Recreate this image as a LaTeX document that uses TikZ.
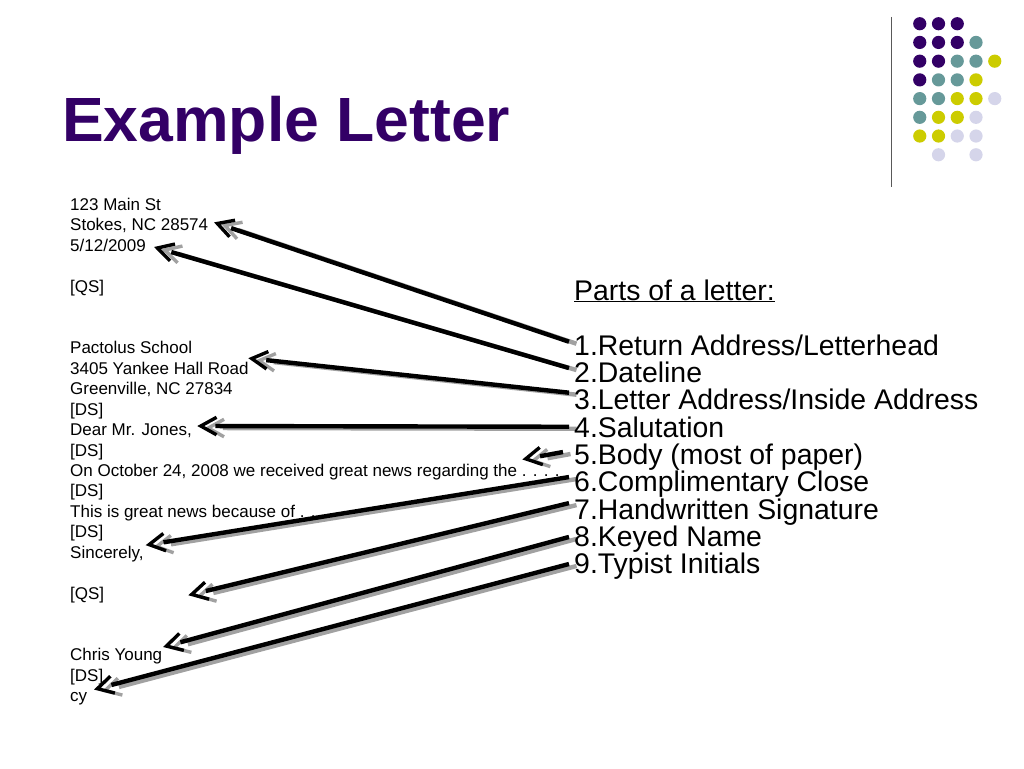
\documentclass[tikz,border=0pt]{standalone}
\usepackage{fontspec}
\setmainfont{Liberation Sans}
\usetikzlibrary{calc,backgrounds}
\definecolor{deeppurple}{HTML}{330066}
\definecolor{dotteal}{HTML}{669999}
\definecolor{dotyellow}{HTML}{CCCC00}
\definecolor{dotlilac}{HTML}{D5D5EA}
\tikzset{
    title/.style={
                anchor=base west,
                inner sep=0pt,
                text=deeppurple,
                font=\fontsize{62.5}{70}\selectfont\bfseries
            },
    letter/.style={
                anchor=north west,
                inner sep=0pt,
                align=left,
                font=\fontsize{17}{20.46}\selectfont
            },
    part/.style={
                anchor=base west,
                inner sep=0pt,
                font=\fontsize{28.4}{32}\selectfont
            },
    pointer/.style={line width=4.4pt,black},
    pointer head/.style={line width=3.4pt,black},
    pointer shadow/.style={line width=4.4pt,black!37},
    pointer shadow head/.style={line width=3.4pt,black!37},
}
% one arrow: open chevron at the tip, shaft stopping just behind it
\newcommand{\letterpointer}[3]{
  \draw[#1] (#2) -- ($(#3)!17pt!(#2)$);
  \coordinate (apex) at ($(#3)!2.5pt!(#2)$);
  \draw[#1 head] ($(apex)!18pt!29:(#2)$) -- (apex) -- ($(apex)!18pt!-29:(#2)$);
}
\begin{document}
\begin{tikzpicture}[x=1pt,y=-1pt]
  \useasboundingbox (0,0) rectangle (1024,768);
  % Title
  \node[title] (heading) at (62,141) {Example Letter};
  % Corner ornament
  \coordinate (ruletop) at (891.5,17);
  \coordinate (rulebottom) at (891.5,187);
  \draw[line width=1.3pt,black!65] (ruletop) -- (rulebottom);
  \foreach \c/\r in {1/1,2/1,3/1,1/2,2/2,3/2,1/3,2/3,1/4}
    \fill[deeppurple] (901+18.75*\c,5+18.72*\r) circle (6.6);
  \foreach \c/\r in {4/2,3/3,4/3,2/4,3/4,1/5,2/5,1/6}
    \fill[dotteal] (901+18.75*\c,5+18.72*\r) circle (6.6);
  \foreach \c/\r in {5/3,4/4,3/5,4/5,2/6,3/6,1/7,2/7}
    \fill[dotyellow] (901+18.75*\c,5+18.72*\r) circle (6.6);
  \foreach \c/\r in {5/5,4/6,3/7,4/7,2/8,4/8}
    \fill[dotlilac] (901+18.75*\c,5+18.72*\r) circle (6.6);
  % Parts list
  \node[part] (partshead) at (574,300) {\underline{Parts of a letter:}};
  \foreach \n/\label in {1/Return Address\slash Letterhead,2/Dateline,3/Letter Address\slash Inside Address,4/Salutation,5/Body (most of paper),6/Complimentary Close,7/Handwritten Signature,8/Keyed Name,9/Typist Initials}
    \node[part] (item\n) at (574,355+27.35*\n-27.35) {\n.\label};
  % Arrow ends
  \foreach \n/\dx/\dy/\tx/\ty in {1/-5/-13.3/215/222.7,2/-5/-14.3/155/247.3,3/-5/-17/249.3/358.3,4/-5/-10.3/198.3/426,5/-11/-12.4/523.3/459.3,6/-5/-14.7/146.7/545,7/-5/-16/189.3/595,8/-5/-9.5/164/646.7,9/-5/-9.8/95/689.3}{
    \coordinate (tip\n) at (\tx,\ty);
    \coordinate (from\n) at ([shift={(\dx,\dy)}]item\n.base west);
    \coordinate (tipgrey\n) at ([shift={(7.5,2)}]tip\n);
    \coordinate (fromgrey\n) at ([shift={(7.5,2)}]from\n);
  }
  % Letter and shadows sit under the list text
  \begin{scope}[on background layer]
    \node[letter] (lettertext) at (70,198) {123 Main St\\Stokes, NC 28574\\5/12/2009\\\mbox{}\\{[QS]}\\\mbox{}\\\mbox{}\\Pactolus School\\3405 Yankee Hall Road\\Greenville, NC 27834\\{[DS]}\\Dear Mr. Jones,\\{[DS]}\\On October 24, 2008 we received great news regarding the . . . .\\{[DS]}\\This is great news because of . . . .\\{[DS]}\\Sincerely,\\\mbox{}\\{[QS]}\\\mbox{}\\\mbox{}\\Chris Young\\{[DS]}\\cy};
    \foreach \n in {1,...,9}
      \letterpointer{pointer shadow}{fromgrey\n}{tipgrey\n};
  \end{scope}
  % Arrows
  \foreach \n in {1,...,9}
    \letterpointer{pointer}{from\n}{tip\n};
\end{tikzpicture}
\end{document}
